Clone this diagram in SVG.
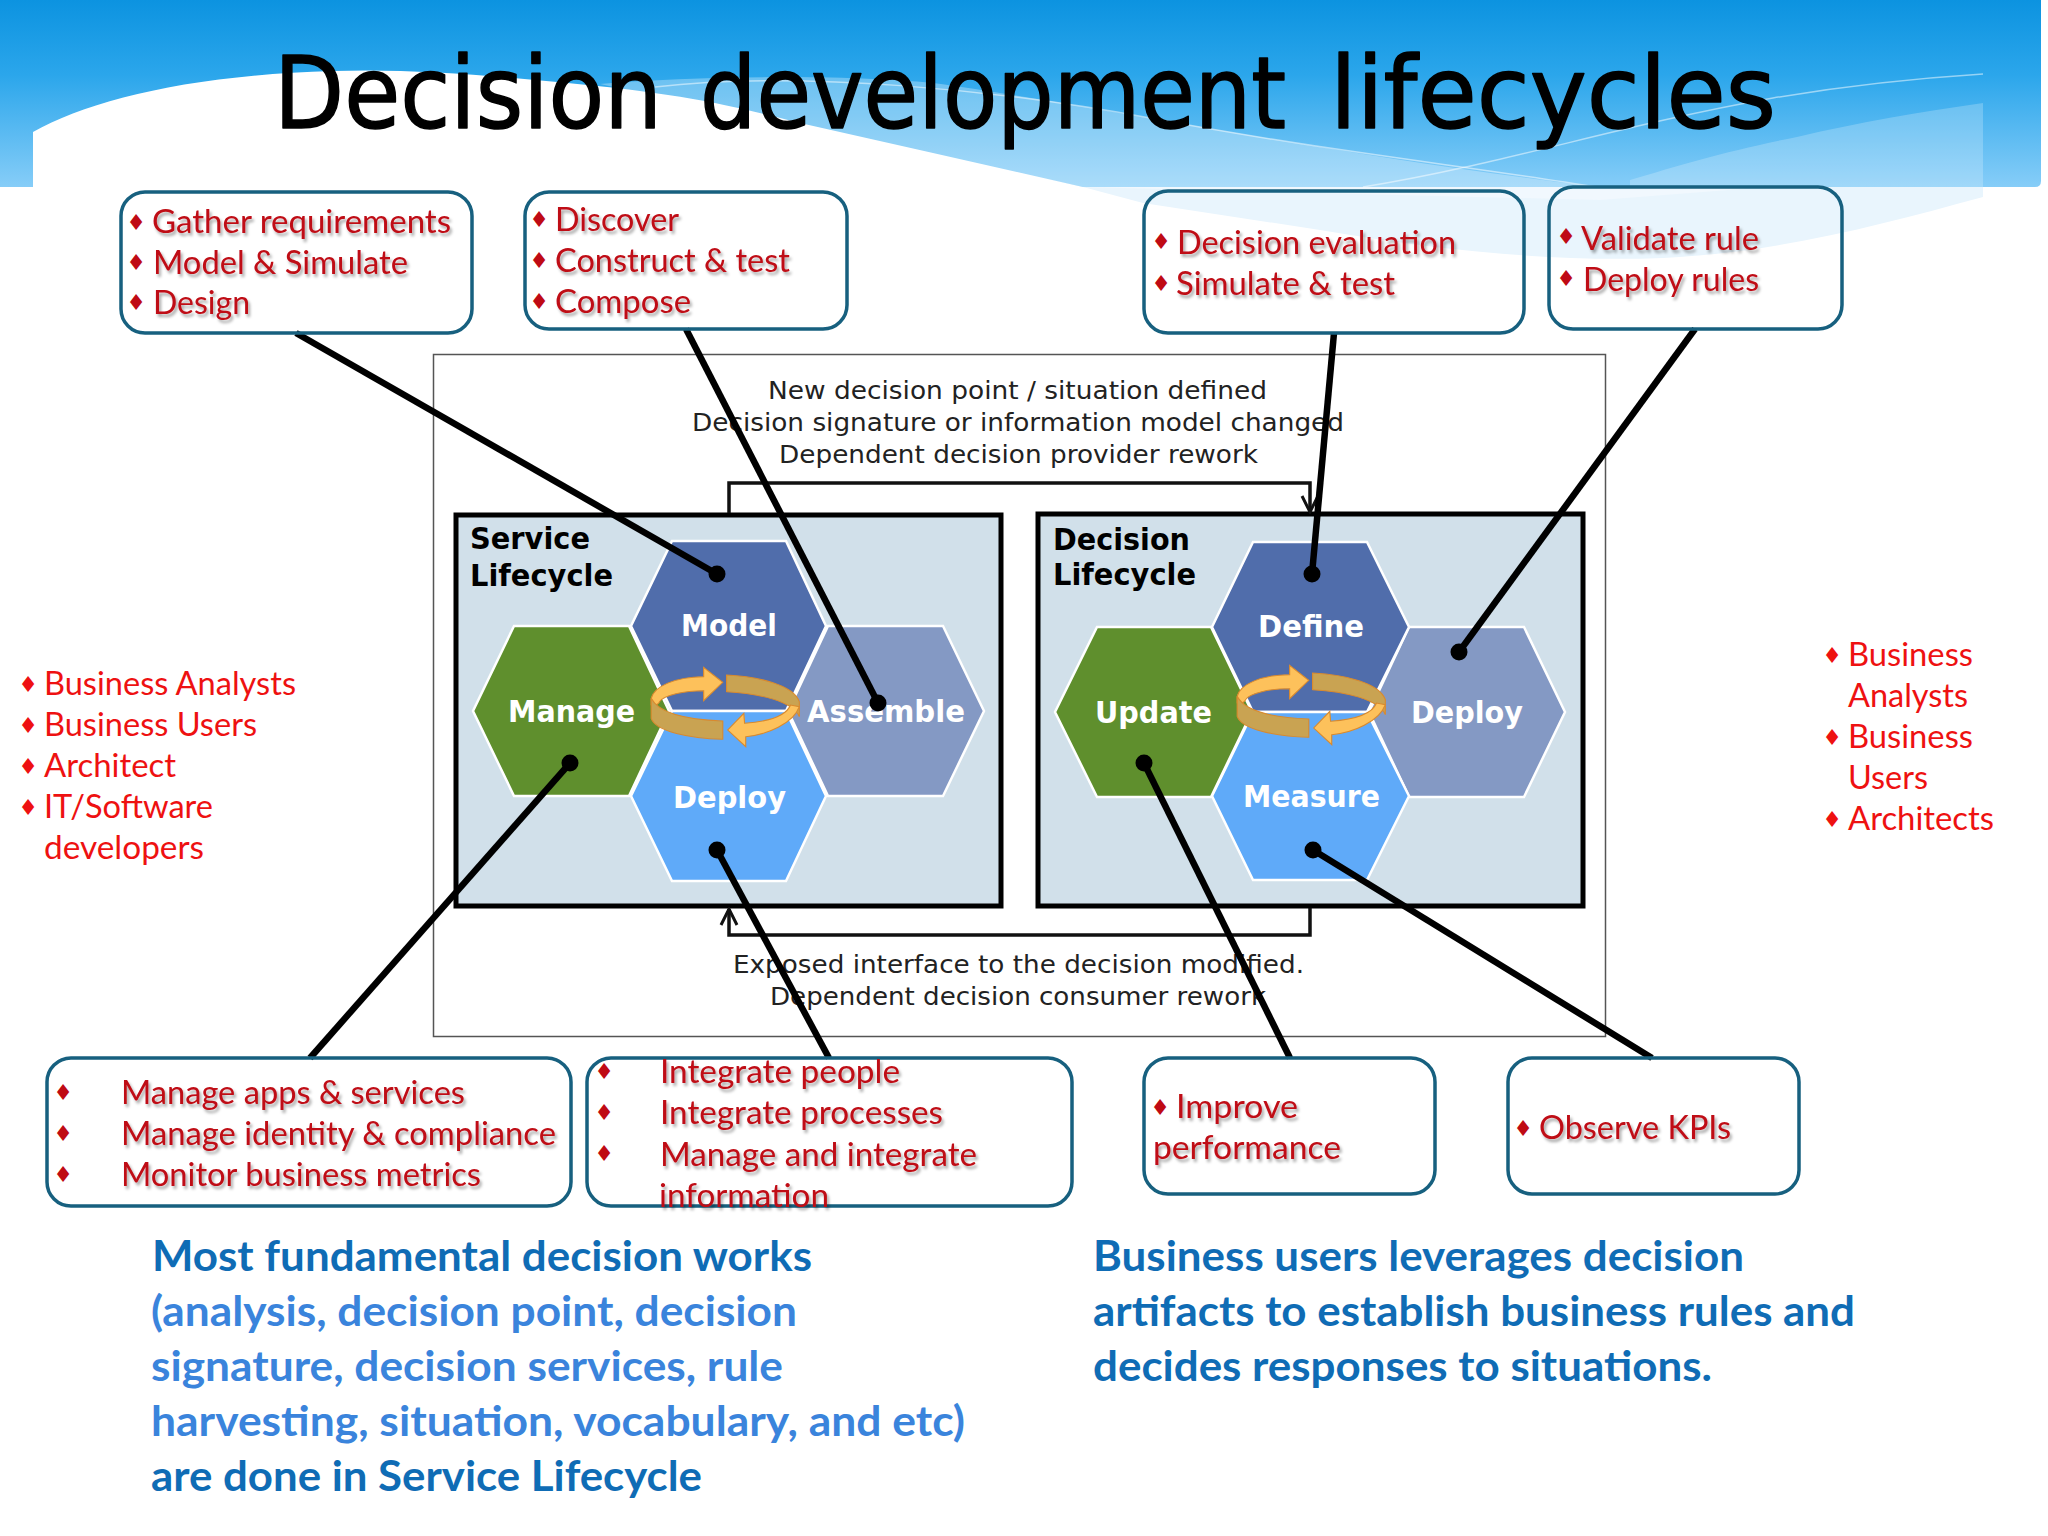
<svg xmlns="http://www.w3.org/2000/svg" xmlns:xlink="http://www.w3.org/1999/xlink" width="2048" height="1536" viewBox="0 0 2048 1536">
<style>
.t{font-family:"Lato","Liberation Sans",sans-serif;font-size:32px;fill:#bf0a14;filter:url(#sh)}
.l{font-family:"Lato","Liberation Sans",sans-serif;font-size:32px;fill:#ee1111}
.d{font-family:"DejaVu Sans",sans-serif;font-size:22px;fill:#bf0a14;text-anchor:middle;transform:translateY(3.5px)}
.e{fill:#ee1111}
.p{font-family:"Lato","Liberation Sans",sans-serif;font-weight:700;font-size:42px;fill:#0f6cb5}
.p2{fill:#3a84dc}
.c{font-family:"DejaVu Sans",sans-serif;font-size:25px;fill:#222}
.h{font-family:"DejaVu Sans",sans-serif;font-weight:700;font-size:31px;fill:#fff}
.k{font-family:"DejaVu Sans",sans-serif;font-weight:700;font-size:31px;fill:#000}
.box{fill:none;stroke:#17607f;stroke-width:3.5}
.lead{stroke:#000;stroke-width:6.5;fill:none}
.flow{stroke:#111;stroke-width:3.5;fill:none}
.panel{fill:#d1e0ea;stroke:#000;stroke-width:5}
.hx{stroke:#fff;stroke-width:2.5}
.ra{fill:#fdc15b;stroke:#d98a2e;stroke-width:3}
.rb{fill:#c9a352;stroke:#d98a2e;stroke-width:3}
</style>
<defs>
<linearGradient id="sky" x1="0" y1="0" x2="0" y2="1"><stop offset="0" stop-color="#0c93e0"/><stop offset="0.4" stop-color="#2ba6eb"/><stop offset="1" stop-color="#86cdf8"/></linearGradient>
<filter id="sh" x="-5%" y="-20%" width="110%" height="150%"><feDropShadow dx="2" dy="3" stdDeviation="1.5" flood-color="#000" flood-opacity="0.35"/></filter>
<marker id="arr" viewBox="0 0 20 20" refX="18" refY="10" markerWidth="20" markerHeight="20" markerUnits="userSpaceOnUse" orient="auto"><path d="M2,2 L18,10 L2,18" fill="none" stroke="#111" stroke-width="3"/></marker>
<g id="ring">
<path class="ra" d="M578,655 C585,620 640,590 715,590 L715,562 L765,607 L715,662 L715,632 C665,632 610,645 600,665 C598,672 590,678 578,675 Z"/>
<path class="rb" d="M578,655 L578,715 C590,755 680,775 765,778 L765,723 C690,720 600,705 578,655 Z"/>
<path class="rb" d="M775,585 C860,590 950,615 965,665 L965,710 C950,665 860,640 775,635 Z"/>
<path class="ra" d="M965,680 C950,730 880,765 825,770 L825,800 L778,750 L820,700 L822,730 C880,725 930,710 942,675 Z"/>
</g>
</defs>
<rect width="2048" height="1536" fill="#fff"/>
<g id="background">
<path d="M1083,187 L1143,203 L1320,230 C1450,252 1560,262 1663,258 C1780,252 1880,225 1983,197 L1983,187 Z" fill="#e9f5fd"/>
<path d="M1083,187 L1983,187 L1983,170 L1600,200 Z" fill="#f1f8fe"/>
<path d="M0,0 H2041 V181 Q2041,187 2035,187 H0 Z" fill="url(#sky)"/>
<path d="M600,84 C700,75 850,75 933,83 C1083,103 1320,153 1597,187 L1083,187 Z" fill="#fff" opacity="0.3"/>
<path d="M1630,187 L1630,180 C1680,165 1730,150 1797,137 C1860,122 1920,112 1983,103 L1983,187 Z" fill="#fff" opacity="0.22"/>
<path d="M33,187 L33,132 C90,100 190,75 333,71 C420,68 520,78 617,88 C680,96 720,102 800,123 L933,153 L1083,187 Z" fill="#fff"/>
<path d="M655,87 C800,70 1000,90 1150,118 C1320,150 1460,165 1597,187" fill="none" stroke="#fff" stroke-opacity="0.5" stroke-width="1.5"/>
<path d="M1363,187 C1500,165 1620,125 1773,98 C1850,85 1920,78 1983,74" fill="none" stroke="#fff" stroke-opacity="0.5" stroke-width="1.5"/>
</g>
<text id="title" y="128" font-family="'DejaVu Sans',sans-serif" font-size="100" fill="#000" stroke="#000" stroke-width="1.5" stroke-linejoin="round"><tspan x="274" textLength="388" lengthAdjust="spacingAndGlyphs">Decision</tspan> <tspan x="700" textLength="586" lengthAdjust="spacingAndGlyphs">development</tspan> <tspan x="1330" textLength="446" lengthAdjust="spacingAndGlyphs">lifecycles</tspan></text>
<rect id="frame" x="433.5" y="354.5" width="1172" height="682" fill="none" stroke="#555" stroke-width="1.5"/>
<g id="flow-notes">
<text class="c" x="768" y="399" textLength="499" lengthAdjust="spacingAndGlyphs">New decision point / situation defined</text>
<text class="c" x="692" y="431" textLength="652" lengthAdjust="spacingAndGlyphs">Decision signature or information model changed</text>
<text class="c" x="779" y="463" textLength="479" lengthAdjust="spacingAndGlyphs">Dependent decision provider rework</text>
<text class="c" x="733" y="973" textLength="571" lengthAdjust="spacingAndGlyphs">Exposed interface to the decision modified.</text>
<text class="c" x="770" y="1005" textLength="496" lengthAdjust="spacingAndGlyphs">Dependent decision consumer rework</text>
</g>
<g id="service-lifecycle">
<rect class="panel" x="456" y="515" width="545" height="391"/>
<g id="assemble"><polygon class="hx" fill="#8499c4" points="828,626 943,626 984,711 943,796 828,796 788,711"/></g>
<g id="model"><polygon class="hx" fill="#506dab" points="672,541 786,541 826,626 786,711 672,711 631,626"/></g>
<g id="deploy-s"><polygon class="hx" fill="#5faaf9" points="672,711 786,711 826,796 786,881 672,881 631,796"/></g>
<g id="manage"><polygon class="hx" fill="#5f8f2d" points="514,626 629,626 669,711 629,796 514,796 473,711"/></g>
<use href="#ring" xlink:href="#ring" transform="translate(430,480) scale(0.3827,0.3333)"/>
<text class="k" x="470" y="549" textLength="120" lengthAdjust="spacingAndGlyphs">Service</text>
<text class="k" x="470" y="586" textLength="143" lengthAdjust="spacingAndGlyphs">Lifecycle</text>
<text class="h" x="681" y="636" textLength="96" lengthAdjust="spacingAndGlyphs">Model</text>
<text class="h" x="508" y="722" textLength="127" lengthAdjust="spacingAndGlyphs">Manage</text>
<text class="h" x="807" y="722" textLength="158" lengthAdjust="spacingAndGlyphs">Assemble</text>
<text class="h" x="673" y="808" textLength="113" lengthAdjust="spacingAndGlyphs">Deploy</text>
</g>
<g id="decision-lifecycle">
<rect class="panel" x="1038" y="514" width="545" height="392"/>
<g id="deploy-d"><polygon class="hx" fill="#8499c4" points="1409,627 1524,627 1565,712 1524,797 1409,797 1369,712"/></g>
<g id="define"><polygon class="hx" fill="#506dab" points="1253,542 1367,542 1409,627 1367,712 1253,712 1212,627"/></g>
<g id="measure"><polygon class="hx" fill="#5faaf9" points="1253,712 1367,712 1409,796 1367,880 1253,880 1212,796"/></g>
<g id="update"><polygon class="hx" fill="#5f8f2d" points="1097,627 1211,627 1252,712 1211,797 1097,797 1055,712"/></g>
<use href="#ring" xlink:href="#ring" transform="translate(1016,478) scale(0.3827,0.3333)"/>
<text class="k" x="1053" y="550" textLength="137" lengthAdjust="spacingAndGlyphs">Decision</text>
<text class="k" x="1053" y="585" textLength="143" lengthAdjust="spacingAndGlyphs">Lifecycle</text>
<text class="h" x="1258" y="637" textLength="106" lengthAdjust="spacingAndGlyphs">Define</text>
<text class="h" x="1095" y="723" textLength="117" lengthAdjust="spacingAndGlyphs">Update</text>
<text class="h" x="1411" y="723" textLength="112" lengthAdjust="spacingAndGlyphs">Deploy</text>
<text class="h" x="1243" y="807" textLength="137" lengthAdjust="spacingAndGlyphs">Measure</text>
</g>
<g id="connectors">
<path class="flow" d="M729,513 L729,483 L1310,483 L1310,512" marker-end="url(#arr)"/>
<path class="flow" d="M1310,908 L1310,935 L729,935 L729,909" marker-end="url(#arr)"/>
<path class="lead" d="M296,333 L717,574"/><circle cx="717" cy="574" r="8.5"/>
<path class="lead" d="M686,329 L878,703"/><circle cx="878" cy="703" r="8.5"/>
<path class="lead" d="M1334,333 L1312,574"/><circle cx="1312" cy="574" r="8.5"/>
<path class="lead" d="M1695,329 L1459,652"/><circle cx="1459" cy="652" r="8.5"/>
<path class="lead" d="M310,1058 L570,763"/><circle cx="570" cy="763" r="8.5"/>
<path class="lead" d="M829,1058 L717,850"/><circle cx="717" cy="850" r="8.5"/>
<path class="lead" d="M1290,1058 L1144,763"/><circle cx="1144" cy="763" r="8.5"/>
<path class="lead" d="M1652,1058 L1313,850"/><circle cx="1313" cy="850" r="8.5"/>
</g>
<g id="box-gather"><rect class="box" x="121" y="192" width="351" height="141" rx="24"/>
<text class="d" x="136" y="226">♦</text><text class="d" x="136" y="266">♦</text><text class="d" x="136" y="306">♦</text>
<text class="t" x="152" y="233" textLength="299" lengthAdjust="spacingAndGlyphs">Gather requirements</text>
<text class="t" x="153" y="274" textLength="255" lengthAdjust="spacingAndGlyphs">Model &amp; Simulate</text>
<text class="t" x="153" y="314" textLength="97" lengthAdjust="spacingAndGlyphs">Design</text></g>
<g id="box-discover"><rect class="box" x="525" y="192" width="322" height="137" rx="24"/>
<text class="d" x="539" y="223">♦</text><text class="d" x="539" y="264">♦</text><text class="d" x="539" y="305">♦</text>
<text class="t" x="555" y="231" textLength="124" lengthAdjust="spacingAndGlyphs">Discover</text>
<text class="t" x="555" y="272" textLength="235" lengthAdjust="spacingAndGlyphs">Construct &amp; test</text>
<text class="t" x="555" y="313" textLength="136" lengthAdjust="spacingAndGlyphs">Compose</text></g>
<g id="box-evaluation"><rect class="box" x="1144" y="191" width="380" height="142" rx="24"/>
<text class="d" x="1161" y="245">♦</text><text class="d" x="1161" y="287">♦</text>
<text class="t" x="1177" y="254" textLength="279" lengthAdjust="spacingAndGlyphs">Decision evaluation</text>
<text class="t" x="1176" y="295" textLength="219" lengthAdjust="spacingAndGlyphs">Simulate &amp; test</text></g>
<g id="box-validate"><rect class="box" x="1549" y="187" width="293" height="142" rx="24"/>
<text class="d" x="1566" y="240">♦</text><text class="d" x="1566" y="282">♦</text>
<text class="t" x="1581" y="250" textLength="178" lengthAdjust="spacingAndGlyphs">Validate rule</text>
<text class="t" x="1583" y="291" textLength="176" lengthAdjust="spacingAndGlyphs">Deploy rules</text></g>
<g id="box-manage"><rect class="box" x="47" y="1058" width="524" height="148" rx="24"/>
<text class="d" x="63" y="1096">♦</text><text class="d" x="63" y="1137">♦</text><text class="d" x="63" y="1178">♦</text>
<text class="t" x="121" y="1104" textLength="344" lengthAdjust="spacingAndGlyphs">Manage apps &amp; services</text>
<text class="t" x="121" y="1145" textLength="435" lengthAdjust="spacingAndGlyphs">Manage identity &amp; compliance</text>
<text class="t" x="121" y="1186" textLength="360" lengthAdjust="spacingAndGlyphs">Monitor business metrics</text></g>
<g id="box-integrate"><rect class="box" x="587" y="1058" width="485" height="148" rx="24"/>
<text class="d" x="604" y="1075">♦</text><text class="d" x="604" y="1116">♦</text><text class="d" x="604" y="1157">♦</text>
<text class="t" x="660" y="1083" textLength="240" lengthAdjust="spacingAndGlyphs">Integrate people</text>
<text class="t" x="660" y="1124" textLength="283" lengthAdjust="spacingAndGlyphs">Integrate processes</text>
<text class="t" x="660" y="1166" textLength="317" lengthAdjust="spacingAndGlyphs">Manage and integrate</text>
<text class="t" x="659" y="1207" textLength="170" lengthAdjust="spacingAndGlyphs">information</text></g>
<g id="box-improve"><rect class="box" x="1144" y="1058" width="291" height="136" rx="24"/>
<text class="d" x="1160" y="1111">♦</text>
<text class="t" x="1176" y="1118" textLength="122" lengthAdjust="spacingAndGlyphs">Improve</text>
<text class="t" x="1153" y="1159" textLength="188" lengthAdjust="spacingAndGlyphs">performance</text></g>
<g id="box-observe"><rect class="box" x="1508" y="1058" width="291" height="136" rx="24"/>
<text class="d" x="1523" y="1132">♦</text>
<text class="t" x="1539" y="1139" textLength="192" lengthAdjust="spacingAndGlyphs">Observe KPIs</text></g>
<g id="roles-left">
<text class="d e" x="28" y="688">♦</text><text class="d e" x="28" y="729">♦</text><text class="d e" x="28" y="770">♦</text><text class="d e" x="28" y="811">♦</text>
<text class="l" x="44" y="695" textLength="252" lengthAdjust="spacingAndGlyphs">Business Analysts</text>
<text class="l" x="44" y="736" textLength="213" lengthAdjust="spacingAndGlyphs">Business Users</text>
<text class="l" x="44" y="777" textLength="132" lengthAdjust="spacingAndGlyphs">Architect</text>
<text class="l" x="44" y="818" textLength="169" lengthAdjust="spacingAndGlyphs">IT/Software</text>
<text class="l" x="44" y="859" textLength="160" lengthAdjust="spacingAndGlyphs">developers</text>
</g>
<g id="roles-right">
<text class="d e" x="1832" y="659">♦</text><text class="d e" x="1832" y="741">♦</text><text class="d e" x="1832" y="823">♦</text>
<text class="l" x="1848" y="666" textLength="125" lengthAdjust="spacingAndGlyphs">Business</text>
<text class="l" x="1848" y="707" textLength="120" lengthAdjust="spacingAndGlyphs">Analysts</text>
<text class="l" x="1848" y="748" textLength="125" lengthAdjust="spacingAndGlyphs">Business</text>
<text class="l" x="1848" y="789" textLength="80" lengthAdjust="spacingAndGlyphs">Users</text>
<text class="l" x="1848" y="830" textLength="146" lengthAdjust="spacingAndGlyphs">Architects</text>
</g>
<g id="notes">
<text class="p" x="152" y="1271" textLength="660" lengthAdjust="spacingAndGlyphs">Most fundamental decision works</text>
<text class="p p2" x="151" y="1326" textLength="646" lengthAdjust="spacingAndGlyphs">(analysis, decision point, decision</text>
<text class="p p2" x="151" y="1381" textLength="632" lengthAdjust="spacingAndGlyphs">signature, decision services, rule</text>
<text class="p p2" x="151" y="1436" textLength="814" lengthAdjust="spacingAndGlyphs">harvesting, situation, vocabulary, and etc)</text>
<text class="p" x="151" y="1491" textLength="551" lengthAdjust="spacingAndGlyphs">are done in Service Lifecycle</text>
<text class="p" x="1093" y="1271" textLength="651" lengthAdjust="spacingAndGlyphs">Business users leverages decision</text>
<text class="p" x="1093" y="1326" textLength="762" lengthAdjust="spacingAndGlyphs">artifacts to establish business rules and</text>
<text class="p" x="1093" y="1381" textLength="619" lengthAdjust="spacingAndGlyphs">decides responses to situations.</text>
</g>
</svg>
